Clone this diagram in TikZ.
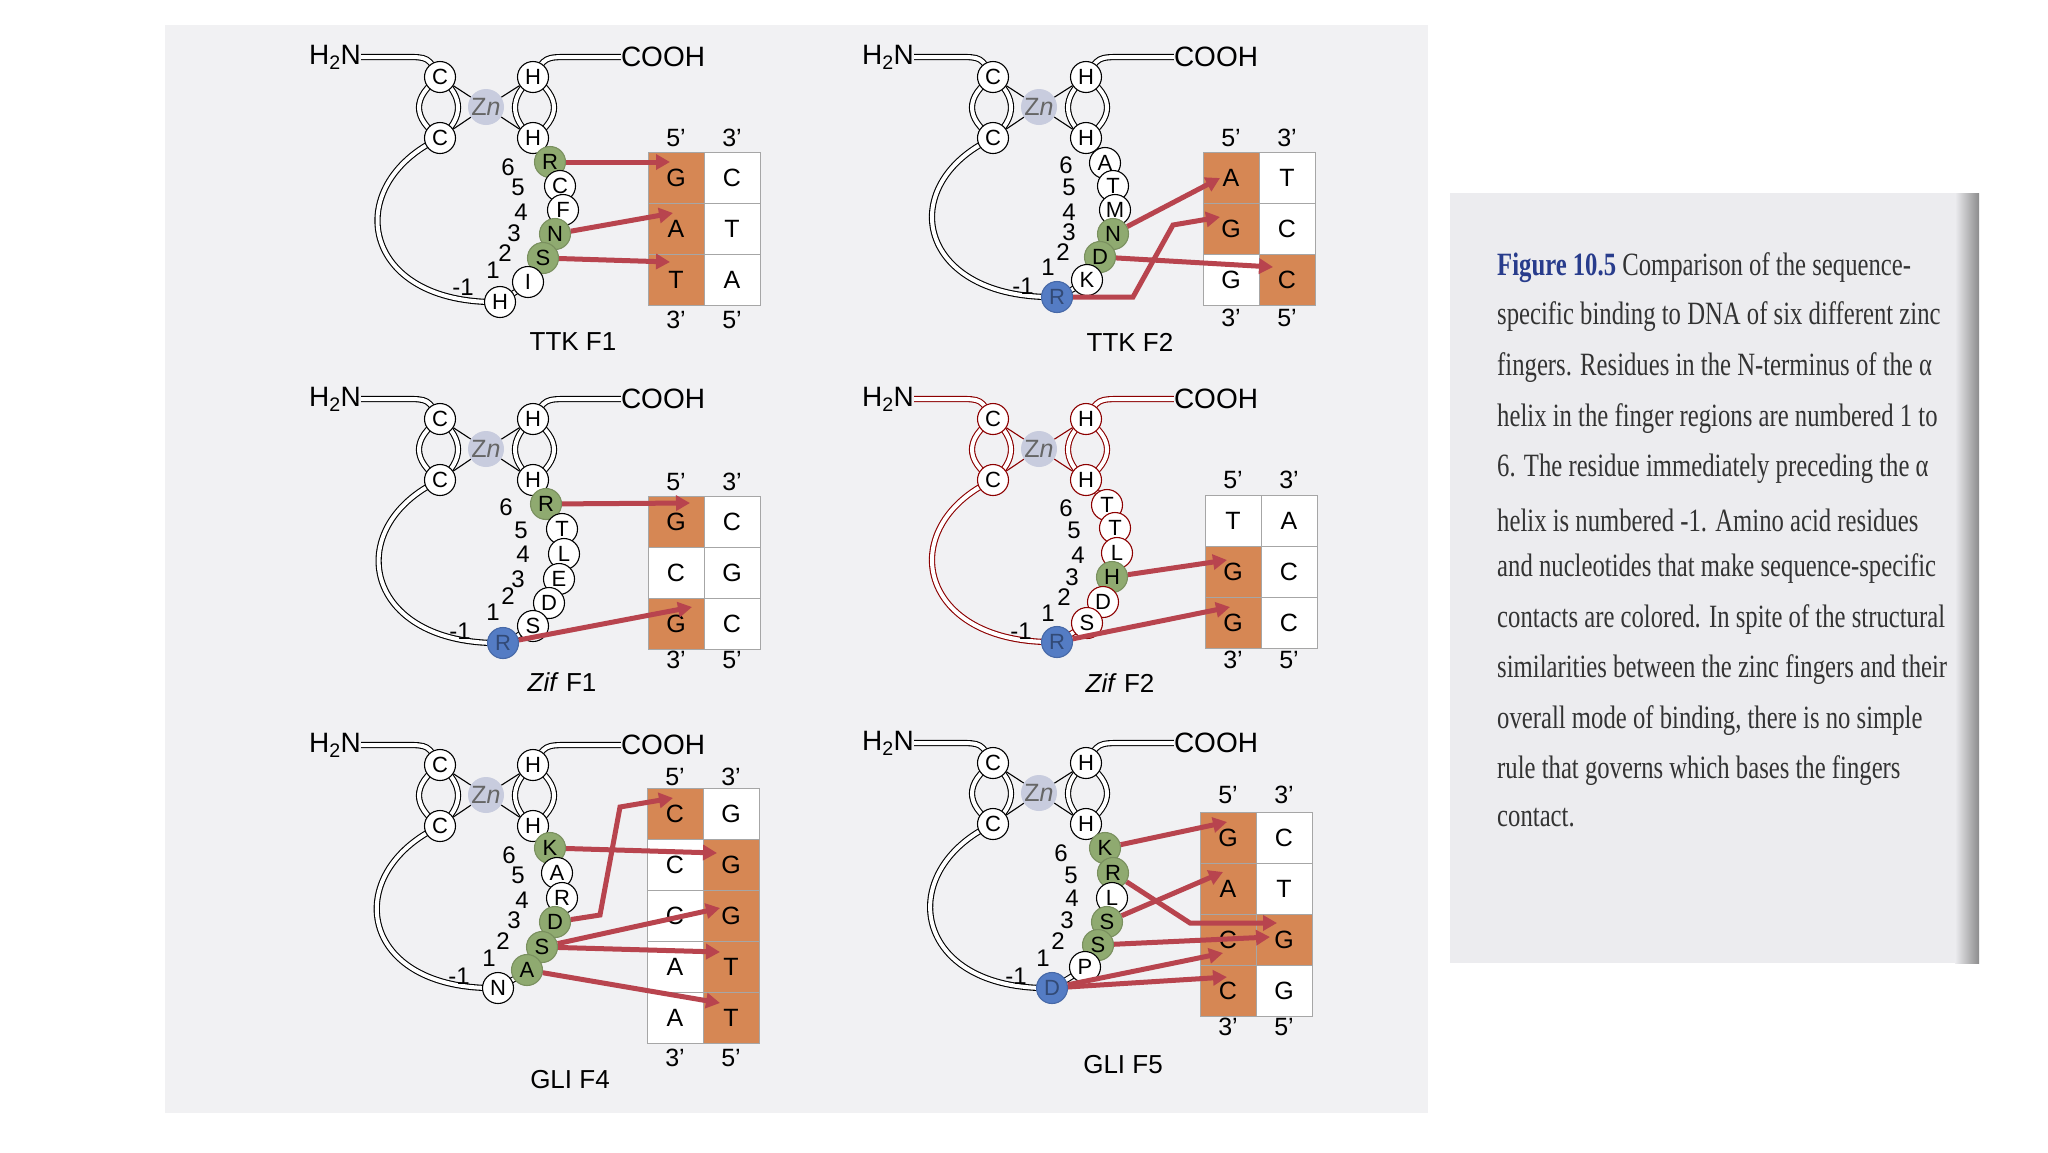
\documentclass[tikz,border=0pt]{standalone}
\usepackage{fontspec}
\setmainfont{Liberation Sans}
\newfontfamily\capfont[FakeStretch=0.76]{Liberation Serif}
\usetikzlibrary{arrows.meta}
\definecolor{org}{RGB}{214,135,84}
\definecolor{resgreen}{RGB}{143,170,112}
\definecolor{resblue}{RGB}{84,124,196}
\definecolor{arrred}{RGB}{184,68,78}
\definecolor{zngrey}{RGB}{200,204,222}
\definecolor{bgc}{RGB}{241,241,243}
\definecolor{capbg}{RGB}{236,236,239}
\definecolor{capblue}{RGB}{40,60,140}
\colorlet{lc}{black}
\pgfdeclarelayer{bg}\pgfdeclarelayer{lines}
\pgfsetlayers{bg,lines,main}
\tikzset{
 res/.style={circle,draw=lc,fill=white,line width=1.1pt,minimum size=31pt,inner sep=0pt,font=\fontsize{22}{22}\selectfont},
 gr/.style={fill=resgreen,draw=resgreen!85!black},
 bl/.style={fill=resblue,draw=resblue!85!black,text=resblue!60!black},
 zn/.style={circle,fill=zngrey,minimum size=36pt,inner sep=0pt,text=black!60,font=\fontsize{25}{25}\selectfont},
 chain/.style={draw=lc,double=white,double distance=4pt,line width=1.1pt},
 thin/.style={draw=lc,line width=1.1pt},
 term/.style={font=\fontsize{28}{28}\selectfont,inner sep=0pt},
 num/.style={font=\fontsize{24}{24}\selectfont,inner sep=0pt},
 lab/.style={font=\fontsize{25}{25}\selectfont,inner sep=0pt},
 ttl/.style={font=\fontsize{26}{26}\selectfont,inner sep=0pt},
 cell/.style={draw=gray!70,line width=0.8pt,minimum width=56pt,minimum height=51pt,inner sep=0pt,font=\fontsize{25}{25}\selectfont},
 arr/.style={draw=arrred,line width=5pt,-{Triangle[length=14pt,width=15pt]}},
 capl/.style={anchor=west,inner sep=0pt,text=black!80,font=\capfont\fontsize{32.5}{32.5}\selectfont}
}
\newcommand\zfframe[3]{%
\begin{scope}[shift={(#2,#3)}]
\node[term] (#1h2n) at (335,57) {H\textsubscript{2}N};
\node[term] (#1cooh) at (663,57) {COOH};
\node[res] (#1c1) at (440,77) {C};
\node[res] (#1h1) at (533,77) {H};
\node[zn] (#1zn) at (486,107) {Z\textit{n}};
\node[res] (#1c2) at (440,138) {C};
\node[res] (#1h2) at (533,138) {H};
\begin{pgfonlayer}{lines}
\draw[chain] (#1h2n.east) -- (405,57) .. controls (428,57) .. (#1c1.center);
\draw[chain] (#1h1.center) .. controls (545,57) .. (570,57) -- (#1cooh.west);
\draw[chain] (#1c1.center) .. controls (412,97) and (412,118) .. (#1c2.center);
\draw[chain] (#1c1.center) .. controls (464,97) and (464,118) .. (#1c2.center);
\draw[chain] (#1h1.center) .. controls (509,97) and (509,118) .. (#1h2.center);
\draw[chain] (#1h1.center) .. controls (561,97) and (561,118) .. (#1h2.center);
\draw[thin] (#1c1) -- (#1zn) (#1c2) -- (#1zn) (#1h1) -- (#1zn) (#1h2) -- (#1zn);
\end{pgfonlayer}
\end{scope}}
\newcommand\zfchain[1]{%
\begin{pgfonlayer}{lines}
\draw[chain] plot[smooth,tension=0.6] coordinates {(#1h2) (#16) (#15) (#14) (#13) (#12) (#11) (#1m)};
\draw[chain] (#1c2.center) .. controls +(-100,47) and +(-140,3) .. (#1m.center);
\end{pgfonlayer}}
\newcommand\nums[8]{%
\node[num] (#1n6) at (#2) {6};
\node[num] (#1n5) at (#3) {5};
\node[num] (#1n4) at (#4) {4};
\node[num] (#1n3) at (#5) {3};
\node[num] (#1n2) at (#6) {2};
\node[num] (#1n1) at (#7) {1};
\node[num] (#1nm) at (#8) {-1};}
\newcommand\cell[5]{\node[cell,fill=#5] (#1) at (#2,#3) {#4};}
\begin{document}
\begin{tikzpicture}[x=1pt,y=-1pt]
\useasboundingbox (0,0) rectangle (2048,1152);
\begin{pgfonlayer}{bg}
\fill[white] (0,0) rectangle (2048,1152);
\fill[bgc] (165,25) rectangle (1428,1113);
\end{pgfonlayer}
% ---------- TTK F1
\zfframe{a}{0}{0}
\node[res,gr] (a6) at (550,162) {R};
\node[res] (a5) at (560,186) {C};
\node[res] (a4) at (563,210) {F};
\node[res,gr] (a3) at (555,234) {N};
\node[res,gr] (a2) at (543,258) {S};
\node[res] (a1) at (528,282) {I};
\node[res] (am) at (500,302) {H};
\zfchain{a}
\nums{a}{508,167}{518,187}{521,212}{514,233}{505,253}{493,270}{463,287}
\cell{ac1}{676}{177.5}{G}{org}\cell{ac2}{732}{177.5}{C}{white}
\cell{ac3}{676}{228.5}{A}{org}\cell{ac4}{732}{228.5}{T}{white}
\cell{ac5}{676}{279.5}{T}{org}\cell{ac6}{732}{279.5}{A}{white}
\node[lab] (al1) at (676,138) {5’};\node[lab] (al2) at (732,138) {3’};
\node[lab] (al3) at (676,320) {3’};\node[lab] (al4) at (732,320) {5’};
\node[ttl] (at) at (573,342) {TTK F1};
\coordinate (ae1) at (670,162);\coordinate (ae2) at (673,213);\coordinate (ae3) at (670,262);
\draw[arr] (a6) -- (ae1);\draw[arr] (a3) -- (ae2);\draw[arr] (a2) -- (ae3);
% ---------- TTK F2
\zfframe{b}{553}{0}
\node[res] (b6) at (1105,163) {A};
\node[res] (b5) at (1113,186) {T};
\node[res] (b4) at (1115,210) {M};
\node[res,gr] (b3) at (1113,234) {N};
\node[res,gr] (b2) at (1100,257) {D};
\node[res] (b1) at (1087,280) {K};
\node[res,bl] (bm) at (1057,297) {R};
\zfchain{b}
\nums{b}{1066,165}{1069,187}{1069,212}{1069,232}{1063,252}{1048,267}{1023,286}
\cell{bc1}{1231}{177.5}{A}{org}\cell{bc2}{1287}{177.5}{T}{white}
\cell{bc3}{1231}{228.5}{G}{org}\cell{bc4}{1287}{228.5}{C}{white}
\cell{bc5}{1231}{279.5}{G}{white}\cell{bc6}{1287}{279.5}{C}{org}
\node[lab] (bl1) at (1231,138) {5’};\node[lab] (bl2) at (1287,138) {3’};
\node[lab] (bl3) at (1231,318) {3’};\node[lab] (bl4) at (1287,318) {5’};
\node[ttl] (bt) at (1130,342) {TTK F2};
\coordinate (be1) at (1220,178);\coordinate (be2) at (1273,267);
\coordinate (bk1) at (1133,297);\coordinate (bk2) at (1173,225);\coordinate (be3) at (1220,217);
\draw[arr] (b3) -- (be1);\draw[arr] (b2) -- (be2);\draw[arr] (bm) -- (bk1) -- (bk2) -- (be3);
% ---------- Zif F1
\zfframe{c}{0}{342}
\node[res,gr] (c6) at (546,504) {R};
\node[res] (c5) at (562,529) {T};
\node[res] (c4) at (564,554) {L};
\node[res] (c3) at (559,579) {E};
\node[res] (c2) at (549,603) {D};
\node[res] (c1) at (533,626) {S};
\node[res,bl] (cm) at (503,643) {R};
\zfchain{c}
\nums{c}{506,507}{521,530}{523,554}{518,579}{508,596}{493,612}{460,631}
\cell{cc1}{676}{521.5}{G}{org}\cell{cc2}{732}{521.5}{C}{white}
\cell{cc3}{676}{572.5}{C}{white}\cell{cc4}{732}{572.5}{G}{white}
\cell{cc5}{676}{623.5}{G}{org}\cell{cc6}{732}{623.5}{C}{white}
\node[lab] (cl1) at (676,482) {5’};\node[lab] (cl2) at (732,482) {3’};
\node[lab] (cl3) at (676,660) {3’};\node[lab] (cl4) at (732,660) {5’};
\node[ttl] (ct) at (562,682) {\textit{Zif} F1};
\coordinate (ce1) at (690,503);\coordinate (ce2) at (692,607);
\draw[arr] (c6) -- (ce1);\draw[arr] (cm) -- (ce2);
% ---------- Zif F2
\begin{scope}
\colorlet{lc}{red!55!black}
\zfframe{d}{553}{342}
\node[res] (d6) at (1107,505) {T};
\node[res] (d5) at (1115,528) {T};
\node[res] (d4) at (1117,553) {L};
\node[res,gr] (d3) at (1112,577) {H};
\node[res] (d2) at (1103,602) {D};
\node[res] (d1) at (1087,623) {S};
\node[res,bl] (dm) at (1057,642) {R};
\zfchain{d}
\end{scope}
\nums{d}{1066,508}{1074,530}{1078,555}{1072,577}{1064,597}{1048,613}{1021,631}
\cell{dc1}{1233}{520.5}{T}{white}\cell{dc2}{1289}{520.5}{A}{white}
\cell{dc3}{1233}{571.5}{G}{org}\cell{dc4}{1289}{571.5}{C}{white}
\cell{dc5}{1233}{622.5}{G}{org}\cell{dc6}{1289}{622.5}{C}{white}
\node[lab] (dl1) at (1233,480) {5’};\node[lab] (dl2) at (1289,480) {3’};
\node[lab] (dl3) at (1233,660) {3’};\node[lab] (dl4) at (1289,660) {5’};
\node[ttl] (dt) at (1120,683) {\textit{Zif} F2};
\coordinate (de1) at (1227,560);\coordinate (de2) at (1230,607);
\draw[arr] (d3) -- (de1);\draw[arr] (dm) -- (de2);
% ---------- GLI F4
\zfframe{e}{0}{688}
\node[res,gr] (e6) at (550,848) {K};
\node[res] (e5) at (557,873) {A};
\node[res] (e4) at (562,898) {R};
\node[res,gr] (e3) at (555,922) {D};
\node[res,gr] (e2) at (542,947) {S};
\node[res,gr] (e1) at (527,970) {A};
\node[res] (em) at (498,988) {N};
\zfchain{e}
\nums{e}{509,855}{518,875}{522,900}{514,920}{503,941}{489,958}{459,976}
\cell{ec1}{675}{813.5}{C}{org}\cell{ec2}{731}{813.5}{G}{white}
\cell{ec3}{675}{864.5}{C}{white}\cell{ec4}{731}{864.5}{G}{org}
\cell{ec5}{675}{915.5}{C}{white}\cell{ec6}{731}{915.5}{G}{org}
\cell{ec7}{675}{966.5}{A}{white}\cell{ec8}{731}{966.5}{T}{org}
\cell{ec9}{675}{1017.5}{A}{white}\cell{ec10}{731}{1017.5}{T}{org}
\node[lab] (el1) at (675,777) {5’};\node[lab] (el2) at (731,777) {3’};
\node[lab] (el3) at (675,1058) {3’};\node[lab] (el4) at (731,1058) {5’};
\node[ttl] (et) at (570,1080) {GLI F4};
\coordinate (ek1) at (600,915);\coordinate (ek2) at (620,807);\coordinate (ee1) at (673,798);
\coordinate (ee2) at (717,853);\coordinate (ee3) at (720,908);\coordinate (ee4) at (720,952);\coordinate (ee5) at (720,1003);
\draw[arr] (e3) -- (ek1) -- (ek2) -- (ee1);
\draw[arr] (e6) -- (ee2);\draw[arr] (e2) -- (ee3);\draw[arr] (e2) -- (ee4);\draw[arr] (e1) -- (ee5);
% ---------- GLI F5
\zfframe{f}{553}{686}
\node[res,gr] (f6) at (1105,848) {K};
\node[res,gr] (f5) at (1113,873) {R};
\node[res] (f4) at (1112,898) {L};
\node[res,gr] (f3) at (1107,922) {S};
\node[res,gr] (f2) at (1098,945) {S};
\node[res] (f1) at (1085,967) {P};
\node[res,bl] (fm) at (1052,988) {D};
\zfchain{f}
\nums{f}{1061,853}{1071,875}{1072,898}{1067,920}{1058,941}{1043,958}{1016,976}
\cell{fc1}{1228}{837.5}{G}{org}\cell{fc2}{1284}{837.5}{C}{white}
\cell{fc3}{1228}{888.5}{A}{org}\cell{fc4}{1284}{888.5}{T}{white}
\cell{fc5}{1228}{939.5}{C}{org}\cell{fc6}{1284}{939.5}{G}{org}
\cell{fc7}{1228}{990.5}{C}{org}\cell{fc8}{1284}{990.5}{G}{white}
\node[lab] (fl1) at (1228,795) {5’};\node[lab] (fl2) at (1284,795) {3’};
\node[lab] (fl3) at (1228,1027) {3’};\node[lab] (fl4) at (1284,1027) {5’};
\node[ttl] (ft) at (1123,1065) {GLI F5};
\coordinate (fe1) at (1227,822);\coordinate (fe2) at (1223,872);
\coordinate (fk1) at (1190,923);\coordinate (fe3) at (1277,923);
\coordinate (fe4) at (1270,937);\coordinate (fe5) at (1223,953);\coordinate (fe6) at (1227,977);
\draw[arr] (f6) -- (fe1);\draw[arr] (f3) -- (fe2);\draw[arr] (f5) -- (fk1) -- (fe3);
\draw[arr] (f2) -- (fe4);\draw[arr] (fm) -- (fe5);\draw[arr] (fm) -- (fe6);
% ---------- caption
\fill[capbg] (1450,193) rectangle (1979,963);
\shade[left color=capbg,right color=black!45] (1955,193) rectangle (1979,963);
\node[capl] (k1) at (1497,268) {{\color{capblue}\bfseries Figure 10.5} Comparison of the sequence-};
\node[capl] (k2) at (1497,317) {specific binding to DNA of six different zinc};
\node[capl] (k3) at (1497,368) {fingers. Residues in the N-terminus of the α};
\node[capl] (k4) at (1497,419) {helix in the finger regions are numbered 1 to};
\node[capl] (k5) at (1497,469) {6. The residue immediately preceding the α};
\node[capl] (k6) at (1497,520) {helix is numbered -1. Amino acid residues};
\node[capl] (k7) at (1497,569) {and nucleotides that make sequence-specific};
\node[capl] (k8) at (1497,620) {contacts are colored. In spite of the structural};
\node[capl] (k9) at (1497,670) {similarities between the zinc fingers and their};
\node[capl] (k10) at (1497,721) {overall mode of binding, there is no simple};
\node[capl] (k11) at (1497,771) {rule that governs which bases the fingers};
\node[capl] (k12) at (1497,818) {contact.};
\end{tikzpicture}
\end{document}
